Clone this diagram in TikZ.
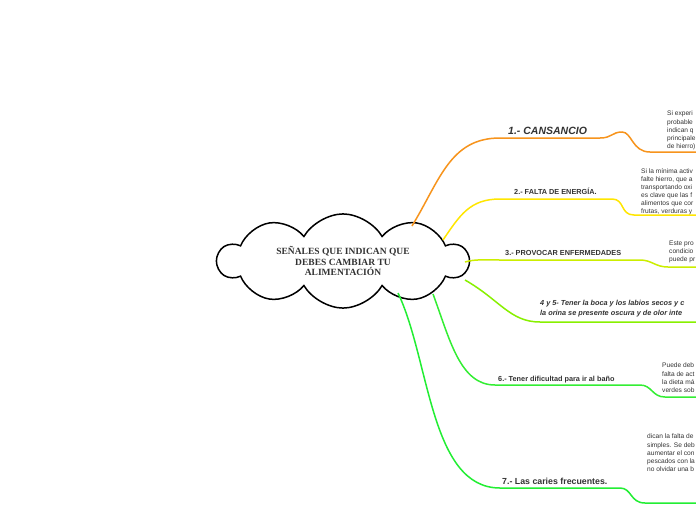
\documentclass[tikz,border=0pt]{standalone}
\usepackage{fontspec}
\setmainfont{Liberation Sans}
\newfontfamily\serifb{Liberation Serif}
\usetikzlibrary{shapes.symbols}
\definecolor{c1}{HTML}{F7941D}
\definecolor{c2}{HTML}{FFE600}
\definecolor{c3}{HTML}{CCEE00}
\definecolor{c4}{HTML}{88F000}
\definecolor{c5}{HTML}{33EE33}
\definecolor{c6}{HTML}{22EE33}
\tikzset{br/.style={line width=1.5pt},
 lab/.style={anchor=base west,inner sep=0,font=\fontsize{7.3}{8}\selectfont\bfseries,text=black!80},
 txt/.style={anchor=north west,inner sep=0,align=left,font=\fontsize{6.6}{8.1}\selectfont,text=black!80}}
\begin{document}
\begin{tikzpicture}[x=1pt,y=-1pt]
\useasboundingbox[fill=white] (0,0) rectangle (696,520);
\node[cloud,draw,line width=1.5pt,cloud puffs=10,cloud puff arc=120,aspect=3.2,minimum width=250,minimum height=76,align=center,font=\serifb\fontsize{9.5}{10.5}\selectfont\bfseries,text=black!80] (c) at (343,261) {SEÑALES QUE INDICAN QUE\\DEBES CAMBIAR TU\\ALIMENTACIÓN};
% labels
\node[lab,font=\fontsize{10.5}{11}\selectfont\bfseries\itshape] (l1) at (508,134) {1.- CANSANCIO};
\node[lab] (l2) at (514,194) {2.- FALTA DE ENERGÍA.};
\node[lab] (l3) at (505,255) {3.- PROVOCAR ENFERMEDADES};
\node[lab,align=left,anchor=north west,font=\fontsize{7.3}{10}\selectfont\bfseries\itshape] (l4) at (540,300) {4 y 5- Tener la boca y los labios secos y c\\la orina se presente oscura y de olor inte};
\node[lab] (l6) at (498,381) {6.- Tener dificultad para ir al baño};
\node[lab,font=\fontsize{8.8}{10}\selectfont\bfseries] (l7) at (502,484) {7.- Las caries frecuentes.};
% text boxes
\node[txt] (t1) at (667,111) {Si experi\\probable\\indican q\\principale\\de hierro)};
\node[txt] (t2) at (641,168) {Si la mínima activ\\falte hierro, que a\\transportando oxi\\es clave que las f\\alimentos que cor\\frutas, verduras y};
\node[txt] (t3) at (669,241) {Este pro\\condicio\\puede pr};
\node[txt] (t6) at (662,363) {Puede deb\\falta de act\\la dieta má\\verdes sob};
\node[txt] (t7) at (647,434) {dican la falta de\\simples. Se deb\\aumentar el con\\pescados con la\\no olvidar una b};
% branches
\draw[br,c1] (412,226) .. controls (440,180) and (450,138) .. (500,138) -- (600,138) .. controls (612,138) and (612,132) .. (622,132) .. controls (632,132) and (632,152) .. (650,152) -- (696,152);
\draw[br,c2] (443,240) .. controls (460,215) and (470,199) .. (500,199) -- (612,199) .. controls (625,199) and (620,215) .. (634,215) -- (696,215);
\draw[br,c3] (465,262) .. controls (475,259) and (485,260) .. (500,260) -- (640,260) .. controls (652,260) and (655,267) .. (668,267) -- (696,267);
\draw[br,c4] (465,280) .. controls (500,300) and (510,322) .. (540,322) -- (696,322);
\draw[br,c5] (433,294) .. controls (450,340) and (460,385) .. (495,385) -- (640,385) .. controls (652,385) and (652,397) .. (665,397) -- (696,397);
\draw[br,c6] (398,293) .. controls (430,360) and (430,488) .. (500,488) -- (620,488) .. controls (632,488) and (630,503) .. (645,503) -- (696,503);
\end{tikzpicture}
\end{document}
